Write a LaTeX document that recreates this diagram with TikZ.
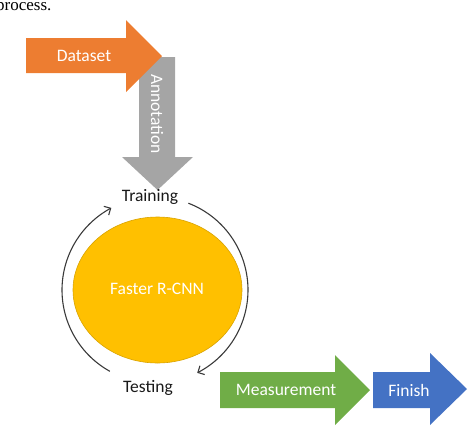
\documentclass[tikz,border=0pt]{standalone}
\usepackage{fontspec}
\setmainfont{Carlito}
\newfontfamily\capserif{Liberation Serif}
\usetikzlibrary{arrows.meta,shapes.geometric}
\definecolor{dsorange}{HTML}{ED7D31}
\definecolor{angray}{HTML}{A5A5A5}
\definecolor{msgreen}{HTML}{70AD47}
\definecolor{fnblue}{HTML}{4472C4}
\definecolor{rcyellow}{HTML}{FFC000}
\definecolor{rcedge}{HTML}{D9A300}
\definecolor{cyclecol}{HTML}{3A3A3A}
\begin{document}
\begin{tikzpicture}[x=1pt,y=-1pt,
  wlabel/.style={text=white,inner sep=0,font=\fontsize{17.5}{20}\selectfont},
  blabel/.style={text=black!90,inner sep=0,font=\fontsize{17.5}{20}\selectfont},
  cyclearrow/.style={draw=cyclecol,line width=1.1pt,-{Straight Barb[length=5pt,width=10pt,line width=1.1pt]}}]
\useasboundingbox (0,0) rectangle (474,432);
\begin{scope}
\clip (0,0) rectangle (474,432);
\node[anchor=base west,inner sep=0,font=\capserif\fontsize{17}{20}\selectfont] (cap) at (-4,10) {process.};
\end{scope}
% Annotation arrow (gray, pointing down)
\fill[angray] (139,57) -- (175,57) -- (175,157) -- (193,157) -- (157.5,190) -- (122,157) -- (139,157) -- cycle;
\node[wlabel,rotate=-90] (annot) at (157,114) {Annotation};
% Dataset arrow (orange)
\fill[dsorange] (26,38) -- (126,38) -- (126,20) -- (162,56) -- (126,92) -- (126,73) -- (26,73) -- cycle;
\node[wlabel] (data) at (84,56) {Dataset};
% Faster R-CNN ellipse
\node[ellipse,draw=rcedge,line width=0.6pt,fill=rcyellow,minimum width=169pt,minimum height=146pt,inner sep=0] (rcnn) at (157.5,290) {};
\node[wlabel] (rcnnlbl) at (157,289) {Faster R-CNN};
% Training / Testing
\node[blabel] (train) at (150,197) {Training};
\node[blabel] (test) at (148,388) {Testing};
% cycle arrows
\draw[cyclearrow] plot[domain=119:242,samples=60] ({155+93*cos(\x)},{290+93*sin(\x)});
\draw[cyclearrow] plot[domain=-69:63,samples=60] ({155+93*cos(\x)},{290+93*sin(\x)});
% Measurement arrow (green)
\fill[msgreen] (220,372) -- (335,372) -- (335,355) -- (370,390) -- (335,425) -- (335,408) -- (220,408) -- cycle;
\node[wlabel] (meas) at (286,390) {Measurement};
% Finish arrow (blue)
\fill[fnblue] (373,372) -- (430,372) -- (430,353) -- (467,389) -- (430,425) -- (430,408) -- (373,408) -- cycle;
\node[wlabel] (fin) at (409,390) {Finish};
\end{tikzpicture}
\end{document}
